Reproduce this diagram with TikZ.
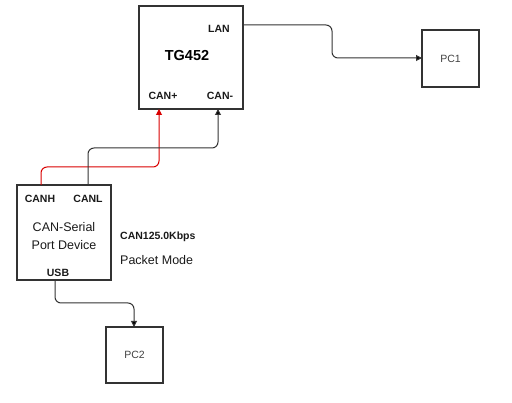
\documentclass[tikz,border=0pt]{standalone}
\usepackage{fontspec}
\setmainfont{Liberation Sans}
\usetikzlibrary{arrows.meta}
\begin{document}
\begin{tikzpicture}[x=1pt,y=-1pt,
  box/.style={draw=black!80,line width=1.1pt},
  lbl/.style={font=\fontsize{10.5}{12}\selectfont\bfseries,text=black!90,inner sep=0pt},
  wire/.style={draw=black!80,line width=1pt,rounded corners=6pt,-{Triangle[length=6pt,width=6pt,fill=black]}},
  redwire/.style={wire,draw=red!85!black,-{Triangle[length=6pt,width=6pt,fill=red!85!black]}}]
\useasboundingbox (0,0) rectangle (512,403);
\draw[box] (139,6) rectangle (243,109);
\node[lbl] (lan) at (219,29) {LAN};
\node[inner sep=0pt,font=\fontsize{14.5}{16}\selectfont\bfseries,text=black] (tg) at (187,56) {TG452};
\node[lbl] (canp) at (163,96) {CAN+};
\node[lbl] (canm) at (220,96) {CAN-};
\coordinate (tgL) at (243,25);
\coordinate (tgP) at (159,109);
\coordinate (tgM) at (218,109);

\draw[box] (422,30) rectangle (479,87);
\node[inner sep=0pt,font=\fontsize{10.5}{12}\selectfont,text=black!75] (pc1) at (450.5,58.5) {PC1};
\coordinate (pc1L) at (422,58);

\draw[box] (17,185) rectangle (111,280);
\node[lbl] (canh) at (40,199) {CANH};
\node[lbl] (canl) at (88,199) {CANL};
\node[inner sep=0pt,align=center,font=\fontsize{12.5}{18}\selectfont,text=black!90] (dev) at (64,236) {CAN-Serial\\Port Device};
\node[lbl] (usb) at (58,273) {USB};
\coordinate (devH) at (41,185);
\coordinate (devL) at (88,185);
\coordinate (devU) at (55,280);

\node[lbl,anchor=west] (rate) at (120,237) {CAN125.0Kbps};
\node[inner sep=0pt,anchor=west,font=\fontsize{12.5}{14}\selectfont,text=black!90] (mode) at (120,260) {Packet Mode};

\draw[box] (106,327) rectangle (163,383);
\node[inner sep=0pt,font=\fontsize{10.5}{12}\selectfont,text=black!75] (pc2) at (134.5,355) {PC2};
\coordinate (pc2T) at (134,327);

\draw[wire] (tgL) -- (332,25) -- (332,58) -- (pc1L);
\draw[redwire] (devH) -- (41,167) -- (159,167) -- (tgP);
\draw[wire] (devL) -- (88,148) -- (218,148) -- (tgM);
\draw[wire] (devU) -- (55,303) -- (134,303) -- (pc2T);
\end{tikzpicture}
\end{document}
